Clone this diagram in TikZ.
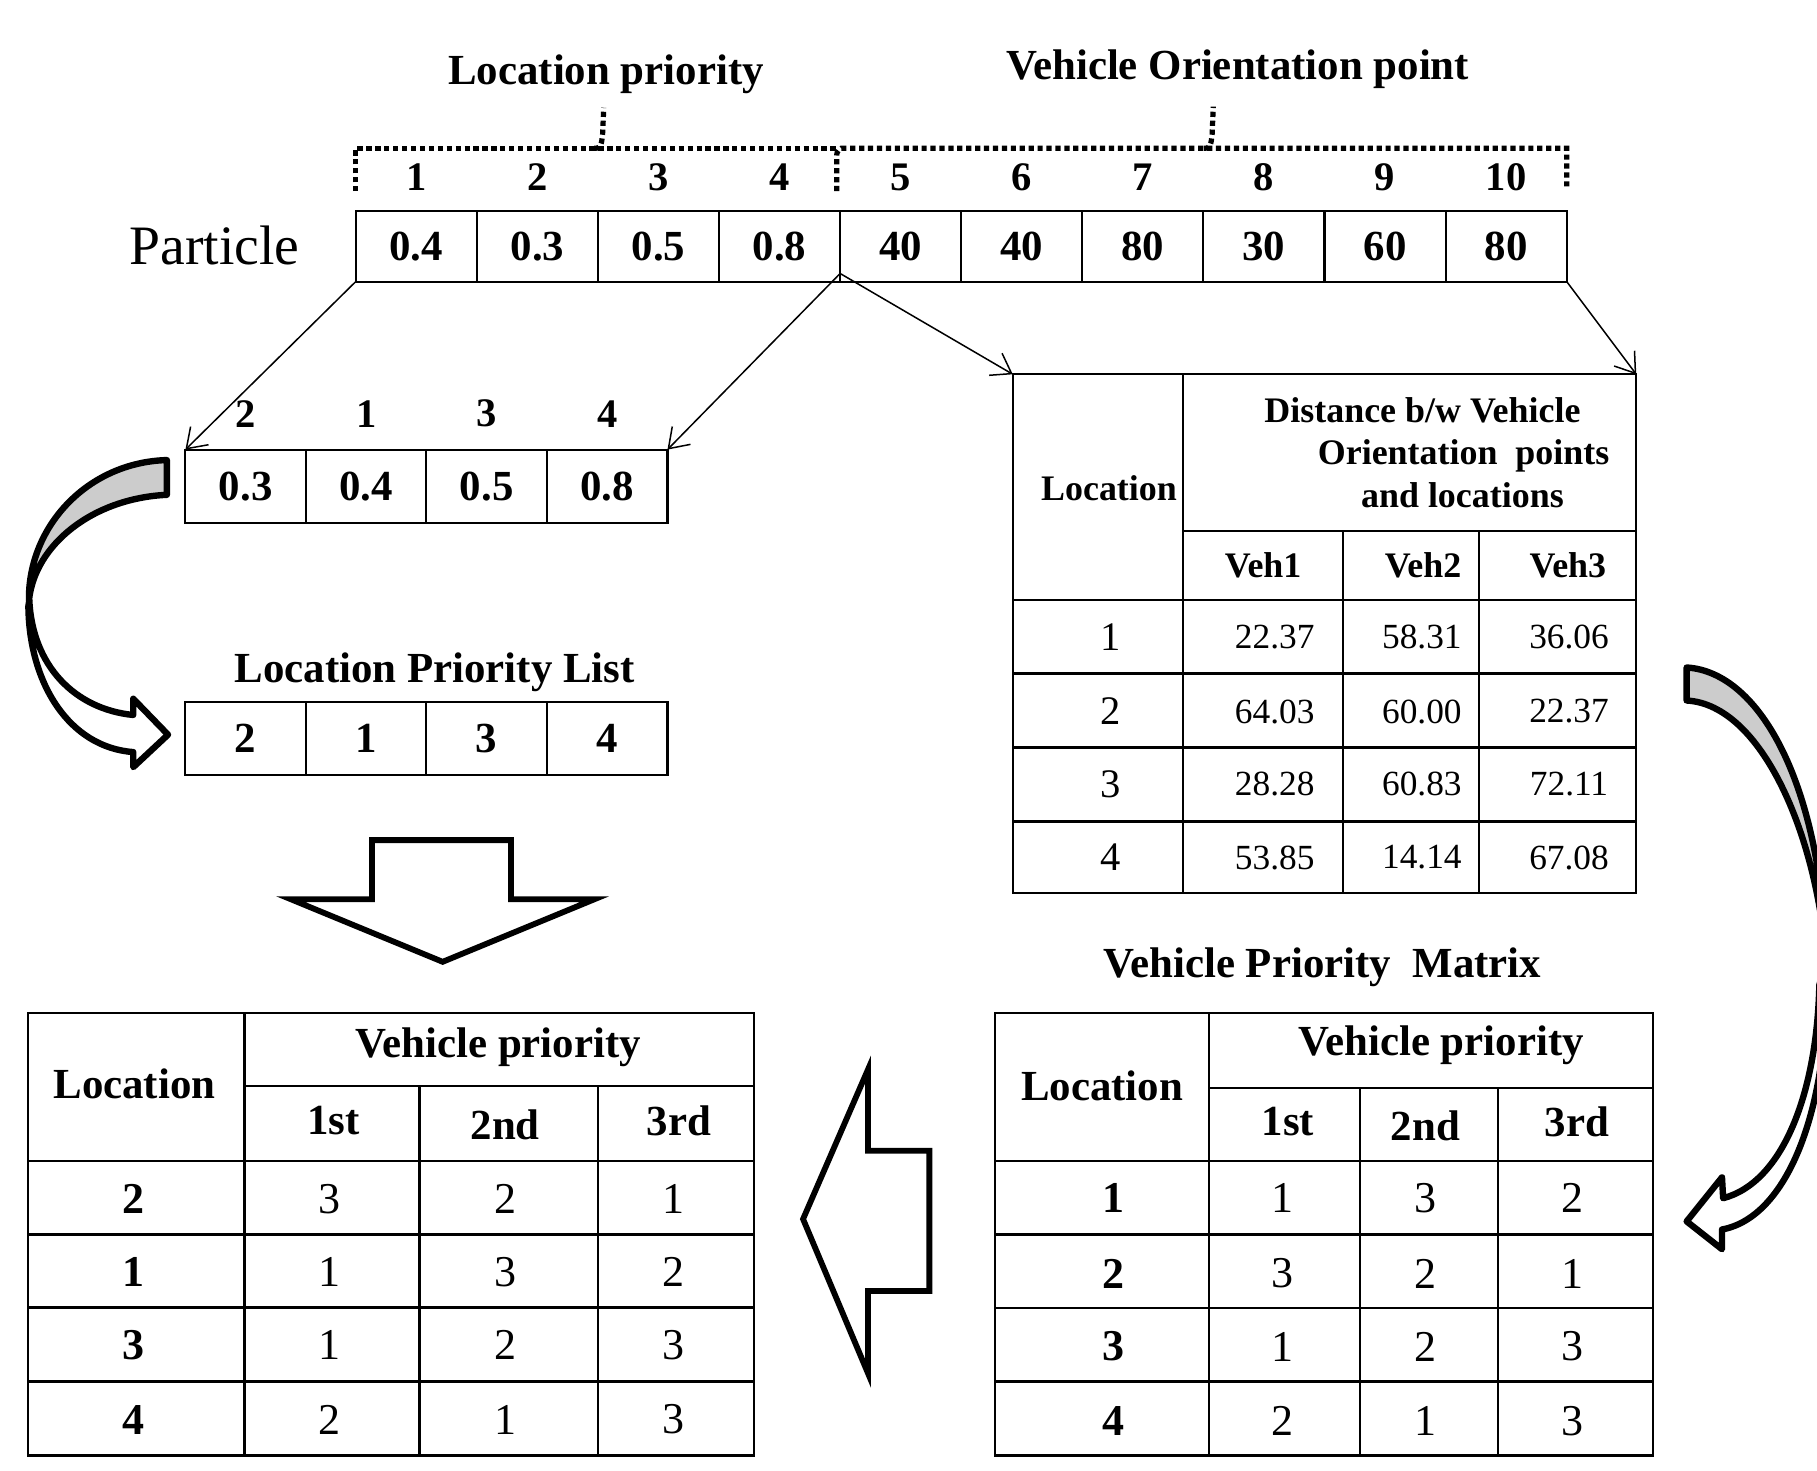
\documentclass[tikz,border=0pt]{standalone}
\usepackage{fontspec}
\setmainfont{Liberation Serif}
\usetikzlibrary{arrows.meta}
\begin{document}
\begin{tikzpicture}[x=1pt,y=-1pt,
  cell/.style={draw, line width=1.8pt, minimum width=104.5pt, minimum height=61pt, inner sep=0pt, outer sep=0pt, font=\fontsize{37}{40}\selectfont\bfseries},
  idx/.style={inner sep=0pt, font=\fontsize{35}{40}\selectfont\bfseries},
  ttl/.style={inner sep=0pt, font=\fontsize{37}{42}\selectfont\bfseries},
  hd/.style={inner sep=0pt, font=\fontsize{31}{36}\selectfont\bfseries},
  dv/.style={inner sep=0pt, font=\fontsize{30.5}{34}\selectfont},
  dn/.style={inner sep=0pt, font=\fontsize{35}{38}\selectfont},
  bv/.style={inner sep=0pt, font=\fontsize{38}{42}\selectfont},
  bb/.style={inner sep=0pt, font=\fontsize{38}{42}\selectfont\bfseries},
  gridline/.style={line width=1.8pt},
  rowline/.style={line width=2.4pt},
  arr/.style={line width=1.3pt, -{Straight Barb[length=16pt,width=22pt,line width=1.3pt]}},
  bracedot/.style={line width=4.5pt, dash pattern=on 4.5pt off 3.2pt},
  blockarrow/.style={draw, line width=5pt, fill=white, line join=miter},
  curvedarrow/.style={draw, line width=5.5pt, line join=round}
]
\useasboundingbox (0,0) rectangle (1568,1269);

% ---------- titles ----------
\node[ttl] (lp) at (523,64) {Location priority};
\node[ttl] (vop) at (1068,60) {Vehicle Orientation point};
\node[inner sep=0pt, font=\fontsize{48}{52}\selectfont] (particle) at (185,212) {Particle};

% ---------- dotted braces ----------
\draw[bracedot] (307,165) -- (307,128) -- (722,128);
\draw[bracedot] (513,128) .. controls (519,128) and (519,124) .. (520,116) -- (521,93);
\draw[bracedot] (722,165) -- (722,137) .. controls (722,131) .. (726,128) -- (1352,128) -- (1352,162);
\draw[bracedot] (1039,128) .. controls (1045,128) and (1045,124) .. (1046,116) -- (1047,92);

% ---------- particle row ----------
\foreach \v [count=\i] in {0.4,0.3,0.5,0.8,40,40,80,30,60,80} {
  \node[cell] (p\i) at ({307+104.5*(\i-0.5)},212.5) {\v};
  \node[idx] (n\i) at ({307+104.5*(\i-0.5)},153) {\i};
}

% ---------- sorted row ----------
\foreach \v/\k [count=\i] in {0.3/2,0.4/1,0.5/3,0.8/4} {
  \node[cell, minimum width=104pt, minimum height=63pt] (s\i) at ({160+104*(\i-0.5)},419.5) {\v};
  \node[idx] (sk\i) at ({160+104*(\i-0.5)},357) {\k};
}

% ---------- location priority list ----------
\node[ttl] (lpl) at (375,580) {Location Priority List};
\foreach \v [count=\i] in {2,1,3,4} {
  \node[cell, minimum width=104pt, minimum height=63pt] (l\i) at ({160+104*(\i-0.5)},637.5) {\v};
}

% ---------- connectors ----------
\coordinate (dnw) at (874,323);
\coordinate (dne) at (1412,323);
\draw[arr] (p1.south west) -- (s1.north west);
\draw[arr] ([yshift=7pt]p4.south east) -- (s4.north east);
\draw[arr] ([yshift=7pt]p4.south east) -- (dnw);
\draw[arr] (p10.south east) -- (dne);

% ---------- distance table ----------
\draw[gridline] (874,323) rectangle (1412,771);
\draw[gridline] (1021,323) -- (1021,771);
\draw[gridline] (1021,458) -- (1412,458);
\draw[gridline] (1159,458) -- (1159,771);
\draw[gridline] (1276,458) -- (1276,771);
\draw[gridline] (874,518) -- (1412,518);
\foreach \yy in {581,645,709} \draw[rowline] (874,\yy) -- (1412,\yy);

\node[hd] (dloc) at (957,421) {Location};
\node[hd] (dh1) at (1227.5,354) {Distance b/w Vehicle};
\node[hd] (dh2) at (1263,393) {Orientation\ \ points};
\node[hd] (dh3) at (1262,427) {and locations};
\node[hd] (veh1) at (1090,488) {Veh1};
\node[hd] (veh2) at (1228,488) {Veh2};
\node[hd] (veh3) at (1353,488) {Veh3};
\foreach \l/\a/\b/\c/\yy [count=\i] in {1/22.37/58.31/36.06/550, 2/64.03/60.00/22.37/614, 3/28.28/60.83/72.11/676.5, 4/53.85/14.14/67.08/740} {
  \node[dn] (dl\i) at (958,\yy) {\l};
  \node[dv] (da\i) at (1100,\yy) {\a};
  \node[dv] (db\i) at (1227,\yy) {\b};
  \node[dv] (dc\i) at (1354,\yy) {\c};
}

% ---------- down block arrow ----------
\path[blockarrow] (321,725) -- (441,725) -- (441,776) -- (513,776) -- (382,830) -- (251,776) -- (321,776) -- cycle;

% ---------- left block arrow ----------
\path[blockarrow] (802,993) -- (802,1114) -- (749,1114) -- (749,1185) -- (693,1052) -- (749,923) -- (749,993) -- cycle;

% ---------- bottom-left table ----------
\draw[gridline] (24,874) rectangle (651,1256);
\draw[gridline] (211,874) -- (211,1256);
\draw[gridline] (211,937.5) -- (651,937.5);
\draw[gridline] (362,937.5) -- (362,1256);
\draw[gridline] (516,937.5) -- (516,1256);
\draw[gridline] (24,1001.5) -- (651,1001.5);
\foreach \yy in {1065,1128.5,1192} \draw[rowline] (24,\yy) -- (651,\yy);
\node[ttl] (blloc) at (116,935) {Location};
\node[ttl] (blvp) at (430,904) {Vehicle priority};
\node[ttl] (bl1st) at (288,967) {1st};
\node[ttl] (bl2nd) at (436,971) {2nd};
\node[ttl] (bl3rd) at (586,967) {3rd};
\foreach \l/\a/\b/\c/\yy [count=\i] in {2/3/2/1/1035, 1/1/3/2/1098, 3/1/2/3/1161, 4/2/1/3/1225} {
  \node[bb] (bll\i) at (115,\yy) {\l};
  \node[bv] (bla\i) at (284,\yy) {\a};
  \node[bv] (blb\i) at (436,\yy) {\b};
  \node[bv] (blc\i) at (581,\yy) {\c};
}

% ---------- bottom-right table ----------
\node[ttl] (vpm) at (1141,835) {Vehicle Priority\ \ Matrix};
\draw[gridline] (859,874) rectangle (1426.5,1256);
\draw[gridline] (1043,874) -- (1043,1256);
\draw[gridline] (1043,938.5) -- (1426.5,938.5);
\draw[gridline] (1174,938.5) -- (1174,1256);
\draw[gridline] (1293,938.5) -- (1293,1256);
\draw[gridline] (859,1002) -- (1426.5,1002);
\foreach \yy in {1065,1128.7,1192} \draw[rowline] (859,\yy) -- (1426.5,\yy);
\node[ttl] (brloc) at (951,937) {Location};
\node[ttl] (brvp) at (1243.5,902) {Vehicle priority};
\node[ttl] (br1st) at (1111.5,968) {1st};
\node[ttl] (br2nd) at (1230,971.6) {2nd};
\node[ttl] (br3rd) at (1361,968) {3rd};
\foreach \l/\a/\b/\c/\yy [count=\i] in {1/1/3/2/1034, 2/3/2/1/1099, 3/1/2/3/1162, 4/2/1/3/1226} {
  \node[bb] (brl\i) at (960.5,\yy) {\l};
  \node[bv] (bra\i) at (1107,\yy) {\a};
  \node[bv] (brb\i) at (1230,\yy) {\b};
  \node[bv] (brc\i) at (1357,\yy) {\c};
}

% ---------- left curved arrow ----------
\path[curvedarrow, fill=white] (24.5,523) .. controls (25,590) and (60,645) .. (115,649) -- (115,662) -- (145,634) -- (115,603) -- (115,617) .. controls (65,612) and (28,575) .. (25.3,518) -- cycle;
\path[curvedarrow, fill=black!20] (144,397) -- (144,427) .. controls (80,430) and (30,470) .. (25,518) .. controls (24,455) and (75,399) .. (144,397) -- cycle;

% ---------- right curved arrow ----------
\begin{scope}
\clip (0,0) rectangle (1568,1269);
\path[curvedarrow, fill=white] (1576,830) .. controls (1580,950) and (1545,1050) .. (1486,1061) -- (1486,1078) -- (1455.5,1054) -- (1486,1016) -- (1487,1034) .. controls (1540,1020) and (1568,940) .. (1570,850) -- cycle;
\path[curvedarrow, fill=black!20] (1455.5,576) .. controls (1520,580) and (1572,680) .. (1576,830) .. controls (1568,720) and (1520,608) .. (1455.5,604.5) -- cycle;
\end{scope}
\end{tikzpicture}
\end{document}
